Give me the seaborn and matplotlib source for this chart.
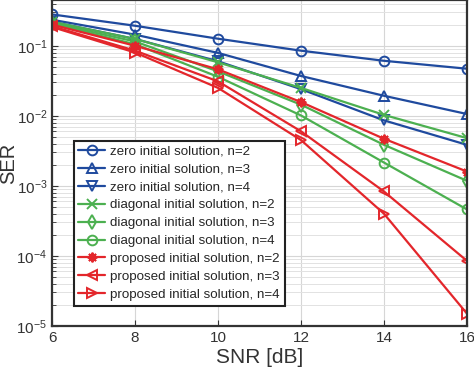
import numpy as np
import pandas as pd
import matplotlib
matplotlib.use("Agg")
import matplotlib.pyplot as plt
import seaborn as sns

snr = [6, 8, 10, 12, 14, 16]

zero_n2 = [0.28, 0.193, 0.126, 0.085, 0.061, 0.047]
zero_n3 = [0.235, 0.144, 0.079, 0.037, 0.0193, 0.0106]
zero_n4 = [0.22, 0.125, 0.060, 0.024, 0.0086, 0.00385]
diag_n2 = [0.22, 0.125, 0.058, 0.025, 0.0103, 0.0048]
diag_n3 = [0.21, 0.115, 0.043, 0.0144, 0.00385, 0.00118]
diag_n4 = [0.205, 0.105, 0.036, 0.0101, 0.00215, 0.00046]
prop_n2 = [0.20, 0.10, 0.046, 0.0157, 0.0047, 0.0016]
prop_n3 = [0.19, 0.085, 0.031, 0.0060, 0.00083, 0.000085]
prop_n4 = [0.185, 0.080, 0.025, 0.0045, 0.00040, 0.000015]

labels = ["zero initial solution, n=2", "zero initial solution, n=3",
          "zero initial solution, n=4", "diagonal initial solution, n=2",
          "diagonal initial solution, n=3", "diagonal initial solution, n=4",
          "proposed initial solution, n=2", "proposed initial solution, n=3",
          "proposed initial solution, n=4"]
series = [zero_n2, zero_n3, zero_n4, diag_n2, diag_n3, diag_n4,
          prop_n2, prop_n3, prop_n4]

blue, green, red = "#1f4a9e", "#4cb050", "#e3262b"
colors = [blue] * 3 + [green] * 3 + [red] * 3
markers = ["o", "^", "v", "x", "d", "o", (8, 2, 0), "<", ">"]

sns.set_style("whitegrid")
plt.rcParams['font.family'] = ['Liberation Sans', 'DejaVu Sans']
plt.rcParams['mathtext.fontset'] = 'custom'
plt.rcParams['mathtext.rm'] = 'Liberation Sans'
plt.rcParams['mathtext.it'] = 'Liberation Sans:italic'

fig = plt.figure(figsize=(4.74, 3.72), dpi=100)
ax = fig.add_axes([0.11, 0.124, 0.875, 0.876])

for lab, vals, c, m in zip(labels, series, colors, markers):
    df = pd.DataFrame({"SNR": snr, "SER": vals})
    sns.lineplot(data=df, x="SNR", y="SER", ax=ax, color=c, marker=m,
                 markersize=7, markerfacecolor="none" if m not in ("x", (8, 2, 0)) else c,
                 markeredgecolor=c, markeredgewidth=1.4, linewidth=1.6, label=lab)

ax.set_yscale("log")
ax.set_xlim(6, 16)
ax.set_ylim(1e-5, 0.45)
ax.set_xticks(snr)
ax.set_yticks([1e-5, 1e-4, 1e-3, 1e-2, 1e-1])
ax.grid(True, which="major", color="#d6d6d6", linewidth=0.8)
ax.grid(True, which="minor", axis="y", color="#e2e2e2", linewidth=0.7)
ax.tick_params(axis="both", which="both", direction="in", labelsize=11, colors="#333333")
ax.tick_params(axis="y", which="minor", length=3, left=True)
ax.tick_params(axis="both", which="major", length=4, left=True, bottom=True)
for s in ax.spines.values():
    s.set_color("#333333")
    s.set_linewidth(1.6)
ax.set_xlabel("SNR [dB]", fontsize=15, color="#333333", labelpad=2)
ax.set_ylabel("SER", fontsize=14.5, color="#333333")
ax.yaxis.set_label_coords(-0.082, 0.5)

leg = ax.legend(loc="lower left", bbox_to_anchor=(0.052, 0.062), fontsize=9.6,
                frameon=True, fancybox=False, framealpha=1, edgecolor="#222222",
                labelspacing=0.42, handlelength=2.0, handletextpad=0.4,
                borderpad=0.35, borderaxespad=0)
leg.get_frame().set_linewidth(1.5)

fig.savefig("out.png", dpi=100)
